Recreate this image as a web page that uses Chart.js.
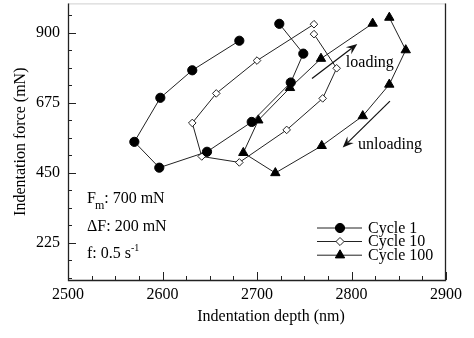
<!DOCTYPE html>
<html>
<head>
<meta charset="utf-8">
<script src="https://cdn.jsdelivr.net/npm/chart.js"></script>
<style>
html,body{margin:0;padding:0;background:#fff;overflow:hidden;}
#wrap{width:474px;height:341px;margin-top:-3px;position:relative;}
</style>
</head>
<body>
<div id="wrap"><canvas id="c"></canvas></div>
<script>
// ---- data ----
const cycle1X   = [2723.6, 2749.0, 2735.7, 2694.4, 2647.1, 2596.6, 2570.2, 2597.7, 2631.5, 2681.3];
const cycle1Y   = [929.4, 833.5, 740.8, 614.0, 518.1, 467.0, 550.0, 691.6, 780.0, 875.0];
const cycle10X  = [2760.3, 2784.3, 2769.5, 2731.4, 2681.3, 2641.5, 2631.5, 2656.9, 2700.0, 2760.3];
const cycle10Y  = [896.2, 786.5, 689.7, 588.4, 483.9, 503.1, 610.8, 705.7, 811.2, 928.1];
const cycle100X = [2840.0, 2857.4, 2840.0, 2811.9, 2768.5, 2719.4, 2685.5, 2701.4, 2734.9, 2767.7, 2822.4];
const cycle100Y = [949.5, 845.0, 734.4, 633.1, 537.3, 450.0, 514.9, 619.4, 723.6, 817.5, 930.4];
const seriesLabels = ['Cycle 1', 'Cycle 10', 'Cycle 100'];
const xTickLabels = [2500, 2600, 2700, 2800, 2900];
const yTickLabels = [225, 450, 675, 900];
const xMinorStep = 25;
const yMinorStep = 56.25;
const xRange = [2500, 2900];
const yRange = [106, 995];
const xTitle = 'Indentation depth (nm)';
const yTitle = 'Indentation force (mN)';
// arrows (data coords): [x1, y1, x2, y2]
const loadingArrow   = [2758.2, 753.6, 2806.1, 864.2];
const unloadingArrow = [2840.7, 681.1, 2790.7, 531.8];
const loadingText   = {x: 2794, y: 803.5, text: 'loading'};
const unloadingText = {x: 2806.9, y: 540.5, text: 'unloading'};

const FONT = '"Liberation Serif", "DejaVu Serif", serif';

function pts(xs, ys){ return xs.map((v,i)=>({x:v, y:ys[i]})); }

const styles = [
  {pointStyle:'circle',   pointRadius:4.6, pointBackgroundColor:'#000', pointBorderColor:'#000'},
  {pointStyle:'rectRot',  pointRadius:3.8, pointBackgroundColor:'#fff', pointBorderColor:'#222'},
  {pointStyle:'triangle', pointRadius:5.4, pointBackgroundColor:'#000', pointBorderColor:'#000'}
];

function drawMarker(ctx, style, x, y){
  ctx.save();
  ctx.fillStyle = style.pointBackgroundColor;
  ctx.strokeStyle = style.pointBorderColor;
  ctx.lineWidth = 1;
  const r = style.pointRadius;
  ctx.beginPath();
  if (style.pointStyle === 'circle') {
    ctx.arc(x, y, r, 0, Math.PI*2);
  } else if (style.pointStyle === 'rectRot') {
    const d = r*Math.SQRT2*0.75;
    ctx.moveTo(x, y-d); ctx.lineTo(x+d, y); ctx.lineTo(x, y+d); ctx.lineTo(x-d, y); ctx.closePath();
  } else {
    ctx.moveTo(x, y-r); ctx.lineTo(x + r*0.866, y + r/2); ctx.lineTo(x - r*0.866, y + r/2); ctx.closePath();
  }
  ctx.fill(); ctx.stroke();
  ctx.restore();
}

function arrow(ctx, x1, y1, x2, y2){
  ctx.save();
  ctx.strokeStyle = '#111'; ctx.fillStyle = '#111'; ctx.lineWidth = 1.2;
  const ang = Math.atan2(y2-y1, x2-x1);
  const L = 11, W = 4.5, N = 7;
  ctx.beginPath(); ctx.moveTo(x1, y1);
  ctx.lineTo(x2 - Math.cos(ang)*N, y2 - Math.sin(ang)*N); ctx.stroke();
  const c = Math.cos(ang), s = Math.sin(ang);
  ctx.beginPath();
  ctx.moveTo(x2, y2);
  ctx.lineTo(x2 - c*L - s*W, y2 - s*L + c*W);
  ctx.lineTo(x2 - c*N, y2 - s*N);
  ctx.lineTo(x2 - c*L + s*W, y2 - s*L - c*W);
  ctx.closePath(); ctx.fill();
  ctx.restore();
}

const decor = {
  id: 'decor',
  afterDraw(chart){
    const {ctx, chartArea:a, scales:{x, y}} = chart;
    ctx.save();
    // frame
    ctx.lineWidth = 1;
    ctx.strokeStyle = '#cfcfcf';
    ctx.beginPath(); ctx.moveTo(a.left, a.top+0.5); ctx.lineTo(a.right, a.top+0.5); ctx.stroke();
    ctx.strokeStyle = '#222';
    ctx.lineWidth = 1.3;
    ctx.beginPath();
    ctx.moveTo(a.left+0.5, a.top); ctx.lineTo(a.left+0.5, a.bottom+0.5);
    ctx.lineTo(a.right-0.5, a.bottom+0.5); ctx.lineTo(a.right-0.5, a.top);
    ctx.stroke();
    // inside ticks
    ctx.lineWidth = 1;
    ctx.beginPath();
    for (let v = xRange[0]; v <= xRange[1] + 1e-6; v += xMinorStep) {
      const px = Math.round(x.getPixelForValue(v)) + 0.5;
      const major = xTickLabels.includes(v);
      ctx.moveTo(px, a.bottom); ctx.lineTo(px, a.bottom - (major ? 8 : 4));
    }
    for (let v = yMinorStep; v <= yRange[1]; v += yMinorStep) {
      if (v < yRange[0]) continue;
      const py = Math.round(y.getPixelForValue(v)) + 0.5;
      const major = yTickLabels.includes(v);
      ctx.moveTo(a.left, py); ctx.lineTo(a.left + (major ? 8 : 4), py);
    }
    ctx.stroke();

    // axis titles
    ctx.fillStyle = '#000';
    ctx.font = '16px ' + FONT;
    ctx.textAlign = 'center'; ctx.textBaseline = 'middle';
    ctx.fillText(xTitle, (a.left + a.right)/2 + 14, a.bottom + 37);
    ctx.save();
    ctx.translate(21, (a.top + a.bottom)/2);
    ctx.rotate(-Math.PI/2);
    ctx.fillText(yTitle, 0, 0);
    ctx.restore();

    // annotation texts (parameters)
    ctx.textAlign = 'left'; ctx.textBaseline = 'middle';
    const tx = a.left + 19;
    let py = y.getPixelForValue(368);
    ctx.font = '16px ' + FONT;
    ctx.fillText('F', tx, py);
    let w = ctx.measureText('F').width;
    ctx.font = '12px ' + FONT;
    ctx.fillText('m', tx + w - 1, py + 7);
    const wm = ctx.measureText('m').width;
    ctx.font = '16px ' + FONT;
    ctx.fillText(': 700 mN', tx + w - 1 + wm, py);
    py = y.getPixelForValue(276);
    ctx.fillText('\u0394F: 200 mN', tx, py);
    py = y.getPixelForValue(189);
    ctx.fillText('f: 0.5 s', tx, py);
    w = ctx.measureText('f: 0.5 s').width;
    ctx.font = '10px ' + FONT;
    ctx.fillText('-1', tx + w, py - 6);

    // arrows + labels
    arrow(ctx, x.getPixelForValue(loadingArrow[0]), y.getPixelForValue(loadingArrow[1]),
               x.getPixelForValue(loadingArrow[2]), y.getPixelForValue(loadingArrow[3]));
    arrow(ctx, x.getPixelForValue(unloadingArrow[0]), y.getPixelForValue(unloadingArrow[1]),
               x.getPixelForValue(unloadingArrow[2]), y.getPixelForValue(unloadingArrow[3]));
    ctx.font = '16px ' + FONT;
    ctx.fillStyle = '#000';
    ctx.fillText(loadingText.text, x.getPixelForValue(loadingText.x), y.getPixelForValue(loadingText.y));
    ctx.fillText(unloadingText.text, x.getPixelForValue(unloadingText.x), y.getPixelForValue(unloadingText.y));

    // legend
    const lx0 = a.left + 249, lx1 = a.left + 294, lm = a.left + 272, ltx = a.left + 300;
    const rows = [a.bottom - 52.5, a.bottom - 39, a.bottom - 25.3];
    chart.data.datasets.forEach((ds, i) => {
      ctx.strokeStyle = '#222'; ctx.lineWidth = 1;
      ctx.beginPath(); ctx.moveTo(lx0, rows[i] + 0.5); ctx.lineTo(lx1, rows[i] + 0.5); ctx.stroke();
      drawMarker(ctx, styles[i], lm, rows[i] + 0.5);
      ctx.fillStyle = '#000'; ctx.font = '16px ' + FONT;
      ctx.textAlign = 'left'; ctx.textBaseline = 'middle';
      ctx.fillText(ds.label, ltx, rows[i] + 1);
    });
    ctx.restore();
  }
};

const datasets = [
  pts(cycle1X, cycle1Y), pts(cycle10X, cycle10Y), pts(cycle100X, cycle100Y)
].map((d, i) => Object.assign({
  label: seriesLabels[i],
  data: d,
  showLine: true,
  borderColor: '#222',
  borderWidth: 1,
  pointBorderWidth: 1,
  tension: 0
}, styles[i]));

function zeroPad(s){ s.paddingLeft = 0; s.paddingRight = 0; s.paddingTop = 0; s.paddingBottom = 0; }

new Chart(document.getElementById('c'), {
  type: 'scatter',
  data: { datasets },
  options: {
    responsive: true,
    maintainAspectRatio: false,
    animation: false,
    layout: { padding: { left: 0, right: 28, top: 1, bottom: 0 } },
    plugins: { legend: { display: false }, tooltip: { enabled: false } },
    scales: {
      x: {
        type: 'linear', min: xRange[0], max: xRange[1],
        grid: { display: false, drawTicks: false }, border: { display: false },
        afterBuildTicks(s){ s.ticks = xTickLabels.map(v => ({value: v})); },
        afterFit(s){ s.height = 58; zeroPad(s); },
        ticks: { color: '#000', font: { family: FONT, size: 16 }, padding: 5, maxRotation: 0,
                 callback: v => String(v) }
      },
      y: {
        type: 'linear', min: yRange[0], max: yRange[1],
        grid: { display: false, drawTicks: false }, border: { display: false },
        afterBuildTicks(s){ s.ticks = yTickLabels.map(v => ({value: v})); },
        afterFit(s){ s.width = 68; zeroPad(s); },
        ticks: { color: '#000', font: { family: FONT, size: 16 }, padding: 8,
                 callback: v => String(v) }
      }
    }
  },
  plugins: [decor]
});
</script>
</body>
</html>
